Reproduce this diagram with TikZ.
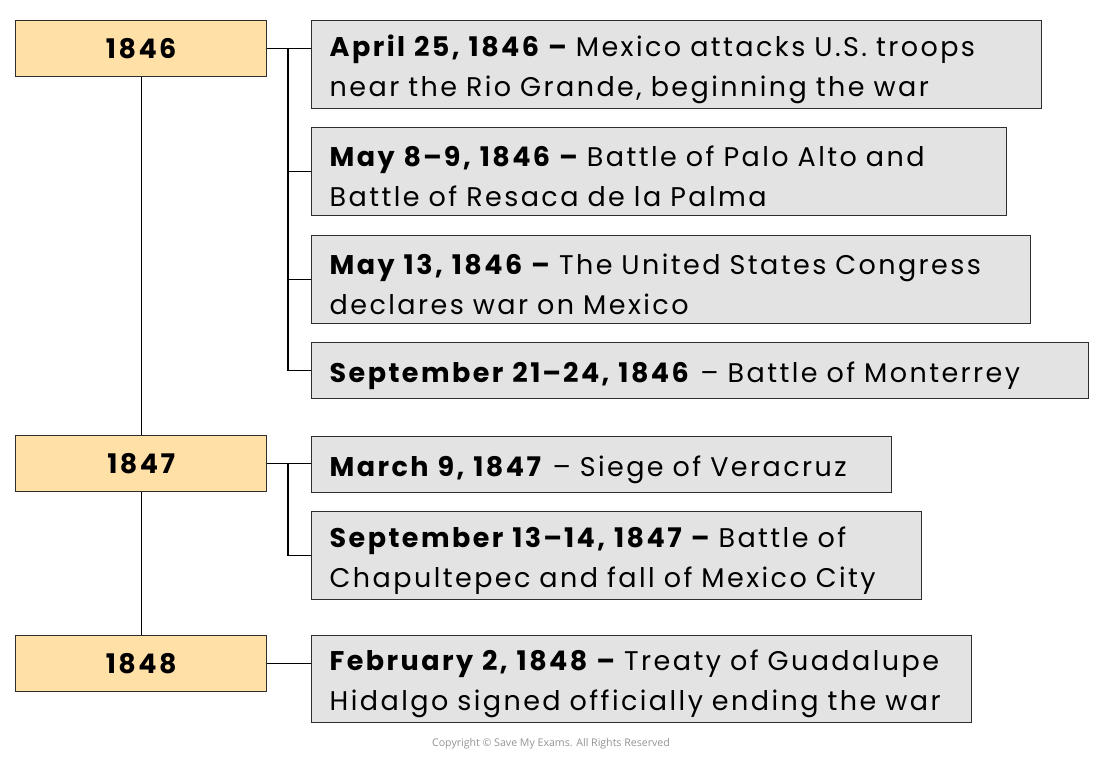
\documentclass[tikz,border=0pt]{standalone}
\usepackage{fontspec}
\setmainfont{Poppins}[LetterSpace=9, WordSpace=1.45]
\newfontfamily\copyfont{Open Sans}
\newcommand{\rdash}{\kern2pt–\kern2pt}
\definecolor{yearfill}{HTML}{FFE0A6}
\definecolor{evfill}{HTML}{E3E3E3}
\definecolor{boxline}{HTML}{2E2E2E}
\begin{document}
\begin{tikzpicture}[x=1pt,y=-1pt,
  every node/.style={font=\fontsize{27}{40}\selectfont},
  yearbox/.style={draw=boxline, fill=yearfill, line width=1.4pt, rectangle,
    minimum width=251, minimum height=56, anchor=north west, inner sep=0pt,
    font=\fontsize{27}{40}\selectfont\bfseries},
  evbox/.style={draw=boxline, fill=evfill, line width=1.4pt, rectangle,
    anchor=north west, align=left, inner xsep=18pt, inner ysep=0pt,
    execute at begin node={\rule{0pt}{30pt}}},
  conn/.style={draw=black, line width=1.4pt}]
\path[fill=white] (0,0) rectangle (1100,756);
\useasboundingbox (0,0) rectangle (1100,756);
% year boxes
\node[yearbox] (y1) at (15,20) {1846};
\node[yearbox] (y2) at (15,435) {1847};
\node[yearbox] (y3) at (15,635) {1848};
% event boxes
\node[evbox, text width=694, minimum height=88] (e1) at (311,20)
  {\textbf{April 25, 1846 –} Mexico attacks U.S. troops\\near the Rio Grande, beginning the war};
\node[evbox, text width=659, minimum height=88] (e2) at (311,127)
  {\textbf{May 8\rdash9, 1846 –} Battle of Palo Alto and\\Battle of Resaca de la Palma};
\node[evbox, text width=683, minimum height=88] (e3) at (311,235)
  {\textbf{May 13, 1846 –} The United States Congress\\declares war on Mexico};
\node[evbox, text width=741, minimum height=56] (e4) at (311,342)
  {\textbf{September 21\rdash24, 1846} – Battle of Monterrey};
\node[evbox, text width=544, minimum height=56] (e5) at (311,436)
  {\textbf{March 9, 1847} – Siege of Veracruz};
\node[evbox, text width=574, minimum height=88] (e6) at (311,511)
  {\textbf{September 13\rdash14, 1847 –} Battle of\\Chapultepec and fall of Mexico City};
\node[evbox, text width=624, minimum height=87] (e7) at (311,635)
  {\textbf{February 2, 1848 –} Treaty of Guadalupe\\Hidalgo signed officially ending the war};
% connectors
\coordinate (b1) at (288,48);
\coordinate (b2) at (288,463);
\draw[conn] (y1.south) -- (y2.north);
\draw[conn] (y2.south) -- (y3.north);
\draw[conn] (y1.east) -- (e1.west |- y1.east);
\draw[conn] (b1) |- (e4.west);
\draw[conn] (b1 |- e2.west) -- (e2.west);
\draw[conn] (b1 |- e3.west) -- (e3.west);
\draw[conn] (y2.east) -- (e5.west |- y2.east);
\draw[conn] (b2) |- (e6.west);
\draw[conn] (y3.east) -- (e7.west |- y3.east);
% copyright
\node[font=\copyfont\fontsize{10.6}{12}\selectfont, text=black!42] (copy) at (551,744)
  {Copyright © Save My Exams. All Rights Reserved};
\end{tikzpicture}
\end{document}
